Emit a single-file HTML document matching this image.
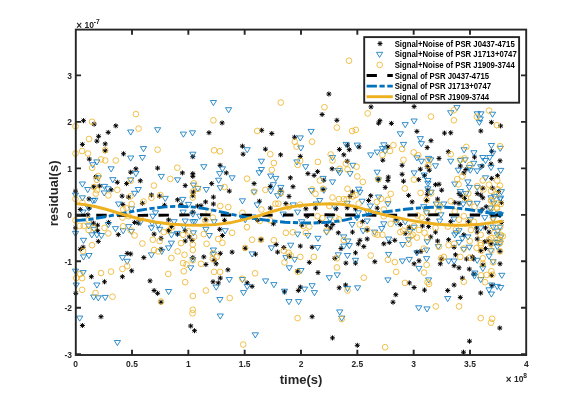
<!DOCTYPE html>
<html><head><meta charset="utf-8"><title>residuals</title>
<style>
html,body{margin:0;padding:0;background:#fff;}
svg{display:block;}
text{font-family:"Liberation Sans",sans-serif;font-weight:bold;fill:#262626;}
.tk{font-size:9.4px;}
.lg{font-size:8.22px;fill:#000;}
.ax{font-size:13px;}
.ex{font-size:9.3px;font-weight:normal;}
.k{stroke:#000;stroke-width:1.0;fill:none;}
.b{stroke:#0072BD;stroke-width:0.8;fill:none;}
.y{stroke:#EDB120;stroke-width:0.8;fill:none;}
</style></head><body>
<svg width="581" height="399" viewBox="0 0 581 399">
<rect width="581" height="399" fill="#fff"/>

<path class="k" d="M81.0 120.7h5m-2.5 -2.5v5m-1.8 -4.3l3.6 3.6m-3.6 0l3.6 -3.6M91.6 124.1h5m-2.5 -2.5v5m-1.8 -4.3l3.6 3.6m-3.6 0l3.6 -3.6M113.3 125.8h5m-2.5 -2.5v5m-1.8 -4.3l3.6 3.6m-3.6 0l3.6 -3.6M105.7 132.4h5m-2.5 -2.5v5m-1.8 -4.3l3.6 3.6m-3.6 0l3.6 -3.6M96.1 136.3h5m-2.5 -2.5v5m-1.8 -4.3l3.6 3.6m-3.6 0l3.6 -3.6M94.4 141.1h5m-2.5 -2.5v5m-1.8 -4.3l3.6 3.6m-3.6 0l3.6 -3.6M102.7 143.9h5m-2.5 -2.5v5m-1.8 -4.3l3.6 3.6m-3.6 0l3.6 -3.6M79.9 144.4h5m-2.5 -2.5v5m-1.8 -4.3l3.6 3.6m-3.6 0l3.6 -3.6M102.7 150.8h5m-2.5 -2.5v5m-1.8 -4.3l3.6 3.6m-3.6 0l3.6 -3.6M121.0 153.8h5m-2.5 -2.5v5m-1.8 -4.3l3.6 3.6m-3.6 0l3.6 -3.6M219.6 122.9h5m-2.5 -2.5v5m-1.8 -4.3l3.6 3.6m-3.6 0l3.6 -3.6M206.5 132.7h5m-2.5 -2.5v5m-1.8 -4.3l3.6 3.6m-3.6 0l3.6 -3.6M259.2 130.3h5m-2.5 -2.5v5m-1.8 -4.3l3.6 3.6m-3.6 0l3.6 -3.6M269.3 133.5h5m-2.5 -2.5v5m-1.8 -4.3l3.6 3.6m-3.6 0l3.6 -3.6M292.1 137.2h5m-2.5 -2.5v5m-1.8 -4.3l3.6 3.6m-3.6 0l3.6 -3.6M239.9 146.2h5m-2.5 -2.5v5m-1.8 -4.3l3.6 3.6m-3.6 0l3.6 -3.6M262.9 149.2h5m-2.5 -2.5v5m-1.8 -4.3l3.6 3.6m-3.6 0l3.6 -3.6M240.6 154.2h5m-2.5 -2.5v5m-1.8 -4.3l3.6 3.6m-3.6 0l3.6 -3.6M278.1 154.8h5m-2.5 -2.5v5m-1.8 -4.3l3.6 3.6m-3.6 0l3.6 -3.6M319.6 114.5h5m-2.5 -2.5v5m-1.8 -4.3l3.6 3.6m-3.6 0l3.6 -3.6M334.4 120.3h5m-2.5 -2.5v5m-1.8 -4.3l3.6 3.6m-3.6 0l3.6 -3.6M368.5 106.9h5m-2.5 -2.5v5m-1.8 -4.3l3.6 3.6m-3.6 0l3.6 -3.6M377.4 120.7h5m-2.5 -2.5v5m-1.8 -4.3l3.6 3.6m-3.6 0l3.6 -3.6M376.1 123.2h5m-2.5 -2.5v5m-1.8 -4.3l3.6 3.6m-3.6 0l3.6 -3.6M345.0 145.2h5m-2.5 -2.5v5m-1.8 -4.3l3.6 3.6m-3.6 0l3.6 -3.6M346.8 149.7h5m-2.5 -2.5v5m-1.8 -4.3l3.6 3.6m-3.6 0l3.6 -3.6M336.9 149.4h5m-2.5 -2.5v5m-1.8 -4.3l3.6 3.6m-3.6 0l3.6 -3.6M356.5 146.9h5m-2.5 -2.5v5m-1.8 -4.3l3.6 3.6m-3.6 0l3.6 -3.6M341.3 154.8h5m-2.5 -2.5v5m-1.8 -4.3l3.6 3.6m-3.6 0l3.6 -3.6M385.4 146.9h5m-2.5 -2.5v5m-1.8 -4.3l3.6 3.6m-3.6 0l3.6 -3.6M411.6 106.6h5m-2.5 -2.5v5m-1.8 -4.3l3.6 3.6m-3.6 0l3.6 -3.6M388.9 123.4h5m-2.5 -2.5v5m-1.8 -4.3l3.6 3.6m-3.6 0l3.6 -3.6M414.4 131.4h5m-2.5 -2.5v5m-1.8 -4.3l3.6 3.6m-3.6 0l3.6 -3.6M442.0 133.1h5m-2.5 -2.5v5m-1.8 -4.3l3.6 3.6m-3.6 0l3.6 -3.6M448.2 132.8h5m-2.5 -2.5v5m-1.8 -4.3l3.6 3.6m-3.6 0l3.6 -3.6M428.5 140.7h5m-2.5 -2.5v5m-1.8 -4.3l3.6 3.6m-3.6 0l3.6 -3.6M424.7 147.6h5m-2.5 -2.5v5m-1.8 -4.3l3.6 3.6m-3.6 0l3.6 -3.6M445.8 151.7h5m-2.5 -2.5v5m-1.8 -4.3l3.6 3.6m-3.6 0l3.6 -3.6M402.0 99.6h5m-2.5 -2.5v5m-1.8 -4.3l3.6 3.6m-3.6 0l3.6 -3.6M488.9 122.3h5m-2.5 -2.5v5m-1.8 -4.3l3.6 3.6m-3.6 0l3.6 -3.6M498.1 125.9h5m-2.5 -2.5v5m-1.8 -4.3l3.6 3.6m-3.6 0l3.6 -3.6M478.3 131.0h5m-2.5 -2.5v5m-1.8 -4.3l3.6 3.6m-3.6 0l3.6 -3.6M489.2 151.3h5m-2.5 -2.5v5m-1.8 -4.3l3.6 3.6m-3.6 0l3.6 -3.6M86.8 159.1h5m-2.5 -2.5v5m-1.8 -4.3l3.6 3.6m-3.6 0l3.6 -3.6M133.4 168.8h5m-2.5 -2.5v5m-1.8 -4.3l3.6 3.6m-3.6 0l3.6 -3.6M128.2 172.2h5m-2.5 -2.5v5m-1.8 -4.3l3.6 3.6m-3.6 0l3.6 -3.6M93.3 176.8h5m-2.5 -2.5v5m-1.8 -4.3l3.6 3.6m-3.6 0l3.6 -3.6M114.8 182.3h5m-2.5 -2.5v5m-1.8 -4.3l3.6 3.6m-3.6 0l3.6 -3.6M124.1 183.6h5m-2.5 -2.5v5m-1.8 -4.3l3.6 3.6m-3.6 0l3.6 -3.6M137.8 180.8h5m-2.5 -2.5v5m-1.8 -4.3l3.6 3.6m-3.6 0l3.6 -3.6M91.2 186.7h5m-2.5 -2.5v5m-1.8 -4.3l3.6 3.6m-3.6 0l3.6 -3.6M97.2 186.0h5m-2.5 -2.5v5m-1.8 -4.3l3.6 3.6m-3.6 0l3.6 -3.6M108.6 189.8h5m-2.5 -2.5v5m-1.8 -4.3l3.6 3.6m-3.6 0l3.6 -3.6M119.6 196.1h5m-2.5 -2.5v5m-1.8 -4.3l3.6 3.6m-3.6 0l3.6 -3.6M126.1 197.1h5m-2.5 -2.5v5m-1.8 -4.3l3.6 3.6m-3.6 0l3.6 -3.6M73.0 191.1h5m-2.5 -2.5v5m-1.8 -4.3l3.6 3.6m-3.6 0l3.6 -3.6M86.5 198.9h5m-2.5 -2.5v5m-1.8 -4.3l3.6 3.6m-3.6 0l3.6 -3.6M139.9 203.3h5m-2.5 -2.5v5m-1.8 -4.3l3.6 3.6m-3.6 0l3.6 -3.6M120.3 204.4h5m-2.5 -2.5v5m-1.8 -4.3l3.6 3.6m-3.6 0l3.6 -3.6M86.8 208.1h5m-2.5 -2.5v5m-1.8 -4.3l3.6 3.6m-3.6 0l3.6 -3.6M77.8 209.5h5m-2.5 -2.5v5m-1.8 -4.3l3.6 3.6m-3.6 0l3.6 -3.6M190.3 156.7h5m-2.5 -2.5v5m-1.8 -4.3l3.6 3.6m-3.6 0l3.6 -3.6M155.1 168.1h5m-2.5 -2.5v5m-1.8 -4.3l3.6 3.6m-3.6 0l3.6 -3.6M217.6 165.3h5m-2.5 -2.5v5m-1.8 -4.3l3.6 3.6m-3.6 0l3.6 -3.6M223.8 172.9h5m-2.5 -2.5v5m-1.8 -4.3l3.6 3.6m-3.6 0l3.6 -3.6M179.9 172.9h5m-2.5 -2.5v5m-1.8 -4.3l3.6 3.6m-3.6 0l3.6 -3.6M190.3 173.6h5m-2.5 -2.5v5m-1.8 -4.3l3.6 3.6m-3.6 0l3.6 -3.6M190.3 176.4h5m-2.5 -2.5v5m-1.8 -4.3l3.6 3.6m-3.6 0l3.6 -3.6M182.7 185.6h5m-2.5 -2.5v5m-1.8 -4.3l3.6 3.6m-3.6 0l3.6 -3.6M209.2 183.6h5m-2.5 -2.5v5m-1.8 -4.3l3.6 3.6m-3.6 0l3.6 -3.6M190.9 192.0h5m-2.5 -2.5v5m-1.8 -4.3l3.6 3.6m-3.6 0l3.6 -3.6M226.8 191.1h5m-2.5 -2.5v5m-1.8 -4.3l3.6 3.6m-3.6 0l3.6 -3.6M156.9 196.1h5m-2.5 -2.5v5m-1.8 -4.3l3.6 3.6m-3.6 0l3.6 -3.6M148.9 195.0h5m-2.5 -2.5v5m-1.8 -4.3l3.6 3.6m-3.6 0l3.6 -3.6M190.3 195.7h5m-2.5 -2.5v5m-1.8 -4.3l3.6 3.6m-3.6 0l3.6 -3.6M210.9 197.1h5m-2.5 -2.5v5m-1.8 -4.3l3.6 3.6m-3.6 0l3.6 -3.6M175.1 199.8h5m-2.5 -2.5v5m-1.8 -4.3l3.6 3.6m-3.6 0l3.6 -3.6M203.1 201.9h5m-2.5 -2.5v5m-1.8 -4.3l3.6 3.6m-3.6 0l3.6 -3.6M210.9 204.0h5m-2.5 -2.5v5m-1.8 -4.3l3.6 3.6m-3.6 0l3.6 -3.6M178.5 204.7h5m-2.5 -2.5v5m-1.8 -4.3l3.6 3.6m-3.6 0l3.6 -3.6M162.0 205.3h5m-2.5 -2.5v5m-1.8 -4.3l3.6 3.6m-3.6 0l3.6 -3.6M195.1 206.0h5m-2.5 -2.5v5m-1.8 -4.3l3.6 3.6m-3.6 0l3.6 -3.6M198.5 205.8h5m-2.5 -2.5v5m-1.8 -4.3l3.6 3.6m-3.6 0l3.6 -3.6M297.8 156.4h5m-2.5 -2.5v5m-1.8 -4.3l3.6 3.6m-3.6 0l3.6 -3.6M305.4 173.6h5m-2.5 -2.5v5m-1.8 -4.3l3.6 3.6m-3.6 0l3.6 -3.6M287.9 177.8h5m-2.5 -2.5v5m-1.8 -4.3l3.6 3.6m-3.6 0l3.6 -3.6M251.6 183.6h5m-2.5 -2.5v5m-1.8 -4.3l3.6 3.6m-3.6 0l3.6 -3.6M267.8 186.4h5m-2.5 -2.5v5m-1.8 -4.3l3.6 3.6m-3.6 0l3.6 -3.6M290.5 186.7h5m-2.5 -2.5v5m-1.8 -4.3l3.6 3.6m-3.6 0l3.6 -3.6M278.3 190.2h5m-2.5 -2.5v5m-1.8 -4.3l3.6 3.6m-3.6 0l3.6 -3.6M286.5 196.4h5m-2.5 -2.5v5m-1.8 -4.3l3.6 3.6m-3.6 0l3.6 -3.6M256.9 201.2h5m-2.5 -2.5v5m-1.8 -4.3l3.6 3.6m-3.6 0l3.6 -3.6M283.4 203.6h5m-2.5 -2.5v5m-1.8 -4.3l3.6 3.6m-3.6 0l3.6 -3.6M267.8 208.1h5m-2.5 -2.5v5m-1.8 -4.3l3.6 3.6m-3.6 0l3.6 -3.6M303.4 208.8h5m-2.5 -2.5v5m-1.8 -4.3l3.6 3.6m-3.6 0l3.6 -3.6M380.3 160.2h5m-2.5 -2.5v5m-1.8 -4.3l3.6 3.6m-3.6 0l3.6 -3.6M344.7 161.2h5m-2.5 -2.5v5m-1.8 -4.3l3.6 3.6m-3.6 0l3.6 -3.6M329.6 168.8h5m-2.5 -2.5v5m-1.8 -4.3l3.6 3.6m-3.6 0l3.6 -3.6M315.1 171.6h5m-2.5 -2.5v5m-1.8 -4.3l3.6 3.6m-3.6 0l3.6 -3.6M311.6 175.4h5m-2.5 -2.5v5m-1.8 -4.3l3.6 3.6m-3.6 0l3.6 -3.6M375.8 179.6h5m-2.5 -2.5v5m-1.8 -4.3l3.6 3.6m-3.6 0l3.6 -3.6M385.8 177.1h5m-2.5 -2.5v5m-1.8 -4.3l3.6 3.6m-3.6 0l3.6 -3.6M385.4 180.5h5m-2.5 -2.5v5m-1.8 -4.3l3.6 3.6m-3.6 0l3.6 -3.6M321.3 180.2h5m-2.5 -2.5v5m-1.8 -4.3l3.6 3.6m-3.6 0l3.6 -3.6M382.7 187.4h5m-2.5 -2.5v5m-1.8 -4.3l3.6 3.6m-3.6 0l3.6 -3.6M320.6 189.5h5m-2.5 -2.5v5m-1.8 -4.3l3.6 3.6m-3.6 0l3.6 -3.6M350.0 192.0h5m-2.5 -2.5v5m-1.8 -4.3l3.6 3.6m-3.6 0l3.6 -3.6M368.2 195.7h5m-2.5 -2.5v5m-1.8 -4.3l3.6 3.6m-3.6 0l3.6 -3.6M347.5 196.4h5m-2.5 -2.5v5m-1.8 -4.3l3.6 3.6m-3.6 0l3.6 -3.6M366.1 200.5h5m-2.5 -2.5v5m-1.8 -4.3l3.6 3.6m-3.6 0l3.6 -3.6M313.0 208.1h5m-2.5 -2.5v5m-1.8 -4.3l3.6 3.6m-3.6 0l3.6 -3.6M333.7 208.8h5m-2.5 -2.5v5m-1.8 -4.3l3.6 3.6m-3.6 0l3.6 -3.6M344.7 207.8h5m-2.5 -2.5v5m-1.8 -4.3l3.6 3.6m-3.6 0l3.6 -3.6M353.0 208.8h5m-2.5 -2.5v5m-1.8 -4.3l3.6 3.6m-3.6 0l3.6 -3.6M374.7 208.1h5m-2.5 -2.5v5m-1.8 -4.3l3.6 3.6m-3.6 0l3.6 -3.6M436.5 158.4h5m-2.5 -2.5v5m-1.8 -4.3l3.6 3.6m-3.6 0l3.6 -3.6M399.6 165.3h5m-2.5 -2.5v5m-1.8 -4.3l3.6 3.6m-3.6 0l3.6 -3.6M424.7 166.7h5m-2.5 -2.5v5m-1.8 -4.3l3.6 3.6m-3.6 0l3.6 -3.6M417.8 169.2h5m-2.5 -2.5v5m-1.8 -4.3l3.6 3.6m-3.6 0l3.6 -3.6M426.8 170.2h5m-2.5 -2.5v5m-1.8 -4.3l3.6 3.6m-3.6 0l3.6 -3.6M399.6 174.3h5m-2.5 -2.5v5m-1.8 -4.3l3.6 3.6m-3.6 0l3.6 -3.6M422.0 175.7h5m-2.5 -2.5v5m-1.8 -4.3l3.6 3.6m-3.6 0l3.6 -3.6M416.2 179.6h5m-2.5 -2.5v5m-1.8 -4.3l3.6 3.6m-3.6 0l3.6 -3.6M401.0 181.2h5m-2.5 -2.5v5m-1.8 -4.3l3.6 3.6m-3.6 0l3.6 -3.6M433.0 184.7h5m-2.5 -2.5v5m-1.8 -4.3l3.6 3.6m-3.6 0l3.6 -3.6M436.5 184.2h5m-2.5 -2.5v5m-1.8 -4.3l3.6 3.6m-3.6 0l3.6 -3.6M425.4 190.2h5m-2.5 -2.5v5m-1.8 -4.3l3.6 3.6m-3.6 0l3.6 -3.6M439.2 190.2h5m-2.5 -2.5v5m-1.8 -4.3l3.6 3.6m-3.6 0l3.6 -3.6M424.7 194.3h5m-2.5 -2.5v5m-1.8 -4.3l3.6 3.6m-3.6 0l3.6 -3.6M406.1 195.4h5m-2.5 -2.5v5m-1.8 -4.3l3.6 3.6m-3.6 0l3.6 -3.6M424.1 200.5h5m-2.5 -2.5v5m-1.8 -4.3l3.6 3.6m-3.6 0l3.6 -3.6M435.1 199.1h5m-2.5 -2.5v5m-1.8 -4.3l3.6 3.6m-3.6 0l3.6 -3.6M409.6 201.9h5m-2.5 -2.5v5m-1.8 -4.3l3.6 3.6m-3.6 0l3.6 -3.6M452.3 202.6h5m-2.5 -2.5v5m-1.8 -4.3l3.6 3.6m-3.6 0l3.6 -3.6M457.8 166.0h5m-2.5 -2.5v5m-1.8 -4.3l3.6 3.6m-3.6 0l3.6 -3.6M463.4 169.5h5m-2.5 -2.5v5m-1.8 -4.3l3.6 3.6m-3.6 0l3.6 -3.6M461.3 172.9h5m-2.5 -2.5v5m-1.8 -4.3l3.6 3.6m-3.6 0l3.6 -3.6M456.5 193.6h5m-2.5 -2.5v5m-1.8 -4.3l3.6 3.6m-3.6 0l3.6 -3.6M458.5 195.7h5m-2.5 -2.5v5m-1.8 -4.3l3.6 3.6m-3.6 0l3.6 -3.6M462.0 198.4h5m-2.5 -2.5v5m-1.8 -4.3l3.6 3.6m-3.6 0l3.6 -3.6M456.5 203.3h5m-2.5 -2.5v5m-1.8 -4.3l3.6 3.6m-3.6 0l3.6 -3.6M472.0 157.1h5m-2.5 -2.5v5m-1.8 -4.3l3.6 3.6m-3.6 0l3.6 -3.6M497.5 160.8h5m-2.5 -2.5v5m-1.8 -4.3l3.6 3.6m-3.6 0l3.6 -3.6M488.5 164.0h5m-2.5 -2.5v5m-1.8 -4.3l3.6 3.6m-3.6 0l3.6 -3.6M479.6 166.0h5m-2.5 -2.5v5m-1.8 -4.3l3.6 3.6m-3.6 0l3.6 -3.6M495.0 175.7h5m-2.5 -2.5v5m-1.8 -4.3l3.6 3.6m-3.6 0l3.6 -3.6M489.2 178.4h5m-2.5 -2.5v5m-1.8 -4.3l3.6 3.6m-3.6 0l3.6 -3.6M489.9 188.1h5m-2.5 -2.5v5m-1.8 -4.3l3.6 3.6m-3.6 0l3.6 -3.6M480.3 188.1h5m-2.5 -2.5v5m-1.8 -4.3l3.6 3.6m-3.6 0l3.6 -3.6M496.1 191.6h5m-2.5 -2.5v5m-1.8 -4.3l3.6 3.6m-3.6 0l3.6 -3.6M474.7 193.6h5m-2.5 -2.5v5m-1.8 -4.3l3.6 3.6m-3.6 0l3.6 -3.6M478.2 195.0h5m-2.5 -2.5v5m-1.8 -4.3l3.6 3.6m-3.6 0l3.6 -3.6M480.3 197.8h5m-2.5 -2.5v5m-1.8 -4.3l3.6 3.6m-3.6 0l3.6 -3.6M498.9 202.6h5m-2.5 -2.5v5m-1.8 -4.3l3.6 3.6m-3.6 0l3.6 -3.6M483.7 206.7h5m-2.5 -2.5v5m-1.8 -4.3l3.6 3.6m-3.6 0l3.6 -3.6M479.6 209.5h5m-2.5 -2.5v5m-1.8 -4.3l3.6 3.6m-3.6 0l3.6 -3.6M85.4 214.8h5m-2.5 -2.5v5m-1.8 -4.3l3.6 3.6m-3.6 0l3.6 -3.6M90.9 223.1h5m-2.5 -2.5v5m-1.8 -4.3l3.6 3.6m-3.6 0l3.6 -3.6M95.1 225.2h5m-2.5 -2.5v5m-1.8 -4.3l3.6 3.6m-3.6 0l3.6 -3.6M95.1 230.7h5m-2.5 -2.5v5m-1.8 -4.3l3.6 3.6m-3.6 0l3.6 -3.6M73.0 227.9h5m-2.5 -2.5v5m-1.8 -4.3l3.6 3.6m-3.6 0l3.6 -3.6M106.1 222.4h5m-2.5 -2.5v5m-1.8 -4.3l3.6 3.6m-3.6 0l3.6 -3.6M115.8 234.6h5m-2.5 -2.5v5m-1.8 -4.3l3.6 3.6m-3.6 0l3.6 -3.6M132.1 222.4h5m-2.5 -2.5v5m-1.8 -4.3l3.6 3.6m-3.6 0l3.6 -3.6M135.8 223.1h5m-2.5 -2.5v5m-1.8 -4.3l3.6 3.6m-3.6 0l3.6 -3.6M95.8 241.4h5m-2.5 -2.5v5m-1.8 -4.3l3.6 3.6m-3.6 0l3.6 -3.6M80.6 247.2h5m-2.5 -2.5v5m-1.8 -4.3l3.6 3.6m-3.6 0l3.6 -3.6M77.8 249.3h5m-2.5 -2.5v5m-1.8 -4.3l3.6 3.6m-3.6 0l3.6 -3.6M124.7 253.4h5m-2.5 -2.5v5m-1.8 -4.3l3.6 3.6m-3.6 0l3.6 -3.6M128.2 253.9h5m-2.5 -2.5v5m-1.8 -4.3l3.6 3.6m-3.6 0l3.6 -3.6M141.3 257.6h5m-2.5 -2.5v5m-1.8 -4.3l3.6 3.6m-3.6 0l3.6 -3.6M166.1 219.9h5m-2.5 -2.5v5m-1.8 -4.3l3.6 3.6m-3.6 0l3.6 -3.6M190.3 212.1h5m-2.5 -2.5v5m-1.8 -4.3l3.6 3.6m-3.6 0l3.6 -3.6M203.4 219.7h5m-2.5 -2.5v5m-1.8 -4.3l3.6 3.6m-3.6 0l3.6 -3.6M222.0 220.3h5m-2.5 -2.5v5m-1.8 -4.3l3.6 3.6m-3.6 0l3.6 -3.6M168.9 226.6h5m-2.5 -2.5v5m-1.8 -4.3l3.6 3.6m-3.6 0l3.6 -3.6M166.1 230.7h5m-2.5 -2.5v5m-1.8 -4.3l3.6 3.6m-3.6 0l3.6 -3.6M151.6 234.1h5m-2.5 -2.5v5m-1.8 -4.3l3.6 3.6m-3.6 0l3.6 -3.6M175.1 234.1h5m-2.5 -2.5v5m-1.8 -4.3l3.6 3.6m-3.6 0l3.6 -3.6M182.7 230.7h5m-2.5 -2.5v5m-1.8 -4.3l3.6 3.6m-3.6 0l3.6 -3.6M186.8 236.9h5m-2.5 -2.5v5m-1.8 -4.3l3.6 3.6m-3.6 0l3.6 -3.6M217.2 229.3h5m-2.5 -2.5v5m-1.8 -4.3l3.6 3.6m-3.6 0l3.6 -3.6M219.9 235.5h5m-2.5 -2.5v5m-1.8 -4.3l3.6 3.6m-3.6 0l3.6 -3.6M158.5 238.3h5m-2.5 -2.5v5m-1.8 -4.3l3.6 3.6m-3.6 0l3.6 -3.6M182.7 241.0h5m-2.5 -2.5v5m-1.8 -4.3l3.6 3.6m-3.6 0l3.6 -3.6M189.6 240.3h5m-2.5 -2.5v5m-1.8 -4.3l3.6 3.6m-3.6 0l3.6 -3.6M158.5 249.3h5m-2.5 -2.5v5m-1.8 -4.3l3.6 3.6m-3.6 0l3.6 -3.6M217.8 253.4h5m-2.5 -2.5v5m-1.8 -4.3l3.6 3.6m-3.6 0l3.6 -3.6M201.3 256.9h5m-2.5 -2.5v5m-1.8 -4.3l3.6 3.6m-3.6 0l3.6 -3.6M211.6 260.3h5m-2.5 -2.5v5m-1.8 -4.3l3.6 3.6m-3.6 0l3.6 -3.6M190.3 257.6h5m-2.5 -2.5v5m-1.8 -4.3l3.6 3.6m-3.6 0l3.6 -3.6M203.4 264.5h5m-2.5 -2.5v5m-1.8 -4.3l3.6 3.6m-3.6 0l3.6 -3.6M213.7 263.8h5m-2.5 -2.5v5m-1.8 -4.3l3.6 3.6m-3.6 0l3.6 -3.6M239.9 216.9h5m-2.5 -2.5v5m-1.8 -4.3l3.6 3.6m-3.6 0l3.6 -3.6M255.1 220.3h5m-2.5 -2.5v5m-1.8 -4.3l3.6 3.6m-3.6 0l3.6 -3.6M270.9 223.8h5m-2.5 -2.5v5m-1.8 -4.3l3.6 3.6m-3.6 0l3.6 -3.6M304.7 216.2h5m-2.5 -2.5v5m-1.8 -4.3l3.6 3.6m-3.6 0l3.6 -3.6M299.2 225.2h5m-2.5 -2.5v5m-1.8 -4.3l3.6 3.6m-3.6 0l3.6 -3.6M258.5 239.7h5m-2.5 -2.5v5m-1.8 -4.3l3.6 3.6m-3.6 0l3.6 -3.6M273.7 244.5h5m-2.5 -2.5v5m-1.8 -4.3l3.6 3.6m-3.6 0l3.6 -3.6M297.8 246.1h5m-2.5 -2.5v5m-1.8 -4.3l3.6 3.6m-3.6 0l3.6 -3.6M281.3 247.5h5m-2.5 -2.5v5m-1.8 -4.3l3.6 3.6m-3.6 0l3.6 -3.6M275.1 252.1h5m-2.5 -2.5v5m-1.8 -4.3l3.6 3.6m-3.6 0l3.6 -3.6M242.7 248.3h5m-2.5 -2.5v5m-1.8 -4.3l3.6 3.6m-3.6 0l3.6 -3.6M229.6 252.1h5m-2.5 -2.5v5m-1.8 -4.3l3.6 3.6m-3.6 0l3.6 -3.6M253.0 254.1h5m-2.5 -2.5v5m-1.8 -4.3l3.6 3.6m-3.6 0l3.6 -3.6M286.8 256.2h5m-2.5 -2.5v5m-1.8 -4.3l3.6 3.6m-3.6 0l3.6 -3.6M306.8 262.4h5m-2.5 -2.5v5m-1.8 -4.3l3.6 3.6m-3.6 0l3.6 -3.6M359.9 221.7h5m-2.5 -2.5v5m-1.8 -4.3l3.6 3.6m-3.6 0l3.6 -3.6M317.2 221.7h5m-2.5 -2.5v5m-1.8 -4.3l3.6 3.6m-3.6 0l3.6 -3.6M324.1 225.2h5m-2.5 -2.5v5m-1.8 -4.3l3.6 3.6m-3.6 0l3.6 -3.6M330.3 224.5h5m-2.5 -2.5v5m-1.8 -4.3l3.6 3.6m-3.6 0l3.6 -3.6M328.2 227.9h5m-2.5 -2.5v5m-1.8 -4.3l3.6 3.6m-3.6 0l3.6 -3.6M335.8 232.8h5m-2.5 -2.5v5m-1.8 -4.3l3.6 3.6m-3.6 0l3.6 -3.6M350.0 232.1h5m-2.5 -2.5v5m-1.8 -4.3l3.6 3.6m-3.6 0l3.6 -3.6M364.7 230.0h5m-2.5 -2.5v5m-1.8 -4.3l3.6 3.6m-3.6 0l3.6 -3.6M364.7 239.0h5m-2.5 -2.5v5m-1.8 -4.3l3.6 3.6m-3.6 0l3.6 -3.6M357.4 240.3h5m-2.5 -2.5v5m-1.8 -4.3l3.6 3.6m-3.6 0l3.6 -3.6M355.8 243.8h5m-2.5 -2.5v5m-1.8 -4.3l3.6 3.6m-3.6 0l3.6 -3.6M361.3 246.6h5m-2.5 -2.5v5m-1.8 -4.3l3.6 3.6m-3.6 0l3.6 -3.6M338.5 248.6h5m-2.5 -2.5v5m-1.8 -4.3l3.6 3.6m-3.6 0l3.6 -3.6M381.3 243.8h5m-2.5 -2.5v5m-1.8 -4.3l3.6 3.6m-3.6 0l3.6 -3.6M386.8 242.4h5m-2.5 -2.5v5m-1.8 -4.3l3.6 3.6m-3.6 0l3.6 -3.6M309.6 247.2h5m-2.5 -2.5v5m-1.8 -4.3l3.6 3.6m-3.6 0l3.6 -3.6M353.0 252.8h5m-2.5 -2.5v5m-1.8 -4.3l3.6 3.6m-3.6 0l3.6 -3.6M332.3 258.3h5m-2.5 -2.5v5m-1.8 -4.3l3.6 3.6m-3.6 0l3.6 -3.6M353.0 263.1h5m-2.5 -2.5v5m-1.8 -4.3l3.6 3.6m-3.6 0l3.6 -3.6M343.4 263.1h5m-2.5 -2.5v5m-1.8 -4.3l3.6 3.6m-3.6 0l3.6 -3.6M372.3 261.7h5m-2.5 -2.5v5m-1.8 -4.3l3.6 3.6m-3.6 0l3.6 -3.6M393.7 219.7h5m-2.5 -2.5v5m-1.8 -4.3l3.6 3.6m-3.6 0l3.6 -3.6M397.8 224.5h5m-2.5 -2.5v5m-1.8 -4.3l3.6 3.6m-3.6 0l3.6 -3.6M425.4 219.7h5m-2.5 -2.5v5m-1.8 -4.3l3.6 3.6m-3.6 0l3.6 -3.6M448.2 221.7h5m-2.5 -2.5v5m-1.8 -4.3l3.6 3.6m-3.6 0l3.6 -3.6M466.1 221.7h5m-2.5 -2.5v5m-1.8 -4.3l3.6 3.6m-3.6 0l3.6 -3.6M406.8 227.2h5m-2.5 -2.5v5m-1.8 -4.3l3.6 3.6m-3.6 0l3.6 -3.6M419.9 225.9h5m-2.5 -2.5v5m-1.8 -4.3l3.6 3.6m-3.6 0l3.6 -3.6M426.1 226.6h5m-2.5 -2.5v5m-1.8 -4.3l3.6 3.6m-3.6 0l3.6 -3.6M433.0 232.1h5m-2.5 -2.5v5m-1.8 -4.3l3.6 3.6m-3.6 0l3.6 -3.6M402.7 233.4h5m-2.5 -2.5v5m-1.8 -4.3l3.6 3.6m-3.6 0l3.6 -3.6M428.2 236.9h5m-2.5 -2.5v5m-1.8 -4.3l3.6 3.6m-3.6 0l3.6 -3.6M392.3 240.3h5m-2.5 -2.5v5m-1.8 -4.3l3.6 3.6m-3.6 0l3.6 -3.6M435.1 241.0h5m-2.5 -2.5v5m-1.8 -4.3l3.6 3.6m-3.6 0l3.6 -3.6M446.1 239.7h5m-2.5 -2.5v5m-1.8 -4.3l3.6 3.6m-3.6 0l3.6 -3.6M451.6 247.2h5m-2.5 -2.5v5m-1.8 -4.3l3.6 3.6m-3.6 0l3.6 -3.6M461.3 234.8h5m-2.5 -2.5v5m-1.8 -4.3l3.6 3.6m-3.6 0l3.6 -3.6M418.5 251.4h5m-2.5 -2.5v5m-1.8 -4.3l3.6 3.6m-3.6 0l3.6 -3.6M414.4 252.1h5m-2.5 -2.5v5m-1.8 -4.3l3.6 3.6m-3.6 0l3.6 -3.6M439.2 259.0h5m-2.5 -2.5v5m-1.8 -4.3l3.6 3.6m-3.6 0l3.6 -3.6M453.0 254.8h5m-2.5 -2.5v5m-1.8 -4.3l3.6 3.6m-3.6 0l3.6 -3.6M464.1 259.0h5m-2.5 -2.5v5m-1.8 -4.3l3.6 3.6m-3.6 0l3.6 -3.6M416.5 260.8h5m-2.5 -2.5v5m-1.8 -4.3l3.6 3.6m-3.6 0l3.6 -3.6M411.6 263.8h5m-2.5 -2.5v5m-1.8 -4.3l3.6 3.6m-3.6 0l3.6 -3.6M437.8 263.8h5m-2.5 -2.5v5m-1.8 -4.3l3.6 3.6m-3.6 0l3.6 -3.6M489.2 214.8h5m-2.5 -2.5v5m-1.8 -4.3l3.6 3.6m-3.6 0l3.6 -3.6M498.9 222.4h5m-2.5 -2.5v5m-1.8 -4.3l3.6 3.6m-3.6 0l3.6 -3.6M474.1 227.9h5m-2.5 -2.5v5m-1.8 -4.3l3.6 3.6m-3.6 0l3.6 -3.6M483.0 227.9h5m-2.5 -2.5v5m-1.8 -4.3l3.6 3.6m-3.6 0l3.6 -3.6M486.5 232.1h5m-2.5 -2.5v5m-1.8 -4.3l3.6 3.6m-3.6 0l3.6 -3.6M474.7 232.1h5m-2.5 -2.5v5m-1.8 -4.3l3.6 3.6m-3.6 0l3.6 -3.6M474.7 239.0h5m-2.5 -2.5v5m-1.8 -4.3l3.6 3.6m-3.6 0l3.6 -3.6M485.8 241.0h5m-2.5 -2.5v5m-1.8 -4.3l3.6 3.6m-3.6 0l3.6 -3.6M482.3 241.7h5m-2.5 -2.5v5m-1.8 -4.3l3.6 3.6m-3.6 0l3.6 -3.6M488.5 243.8h5m-2.5 -2.5v5m-1.8 -4.3l3.6 3.6m-3.6 0l3.6 -3.6M478.2 250.7h5m-2.5 -2.5v5m-1.8 -4.3l3.6 3.6m-3.6 0l3.6 -3.6M483.0 248.6h5m-2.5 -2.5v5m-1.8 -4.3l3.6 3.6m-3.6 0l3.6 -3.6M497.5 251.4h5m-2.5 -2.5v5m-1.8 -4.3l3.6 3.6m-3.6 0l3.6 -3.6M469.9 256.9h5m-2.5 -2.5v5m-1.8 -4.3l3.6 3.6m-3.6 0l3.6 -3.6M471.3 259.0h5m-2.5 -2.5v5m-1.8 -4.3l3.6 3.6m-3.6 0l3.6 -3.6M497.5 263.8h5m-2.5 -2.5v5m-1.8 -4.3l3.6 3.6m-3.6 0l3.6 -3.6M88.9 276.7h5m-2.5 -2.5v5m-1.8 -4.3l3.6 3.6m-3.6 0l3.6 -3.6M129.2 270.8h5m-2.5 -2.5v5m-1.8 -4.3l3.6 3.6m-3.6 0l3.6 -3.6M119.9 276.7h5m-2.5 -2.5v5m-1.8 -4.3l3.6 3.6m-3.6 0l3.6 -3.6M102.0 281.8h5m-2.5 -2.5v5m-1.8 -4.3l3.6 3.6m-3.6 0l3.6 -3.6M73.3 293.3h5m-2.5 -2.5v5m-1.8 -4.3l3.6 3.6m-3.6 0l3.6 -3.6M98.5 316.7h5m-2.5 -2.5v5m-1.8 -4.3l3.6 3.6m-3.6 0l3.6 -3.6M147.5 280.9h5m-2.5 -2.5v5m-1.8 -4.3l3.6 3.6m-3.6 0l3.6 -3.6M225.4 269.8h5m-2.5 -2.5v5m-1.8 -4.3l3.6 3.6m-3.6 0l3.6 -3.6M217.8 278.1h5m-2.5 -2.5v5m-1.8 -4.3l3.6 3.6m-3.6 0l3.6 -3.6M210.5 281.8h5m-2.5 -2.5v5m-1.8 -4.3l3.6 3.6m-3.6 0l3.6 -3.6M215.8 282.9h5m-2.5 -2.5v5m-1.8 -4.3l3.6 3.6m-3.6 0l3.6 -3.6M151.6 290.5h5m-2.5 -2.5v5m-1.8 -4.3l3.6 3.6m-3.6 0l3.6 -3.6M155.1 293.3h5m-2.5 -2.5v5m-1.8 -4.3l3.6 3.6m-3.6 0l3.6 -3.6M158.5 302.2h5m-2.5 -2.5v5m-1.8 -4.3l3.6 3.6m-3.6 0l3.6 -3.6M295.1 271.2h5m-2.5 -2.5v5m-1.8 -4.3l3.6 3.6m-3.6 0l3.6 -3.6M244.7 282.9h5m-2.5 -2.5v5m-1.8 -4.3l3.6 3.6m-3.6 0l3.6 -3.6M249.6 286.4h5m-2.5 -2.5v5m-1.8 -4.3l3.6 3.6m-3.6 0l3.6 -3.6M282.0 291.9h5m-2.5 -2.5v5m-1.8 -4.3l3.6 3.6m-3.6 0l3.6 -3.6M297.8 287.1h5m-2.5 -2.5v5m-1.8 -4.3l3.6 3.6m-3.6 0l3.6 -3.6M295.8 290.5h5m-2.5 -2.5v5m-1.8 -4.3l3.6 3.6m-3.6 0l3.6 -3.6M315.5 272.6h5m-2.5 -2.5v5m-1.8 -4.3l3.6 3.6m-3.6 0l3.6 -3.6M343.1 285.0h5m-2.5 -2.5v5m-1.8 -4.3l3.6 3.6m-3.6 0l3.6 -3.6M336.7 287.8h5m-2.5 -2.5v5m-1.8 -4.3l3.6 3.6m-3.6 0l3.6 -3.6M309.6 316.7h5m-2.5 -2.5v5m-1.8 -4.3l3.6 3.6m-3.6 0l3.6 -3.6M451.6 265.7h5m-2.5 -2.5v5m-1.8 -4.3l3.6 3.6m-3.6 0l3.6 -3.6M456.5 267.8h5m-2.5 -2.5v5m-1.8 -4.3l3.6 3.6m-3.6 0l3.6 -3.6M466.8 269.1h5m-2.5 -2.5v5m-1.8 -4.3l3.6 3.6m-3.6 0l3.6 -3.6M459.9 278.1h5m-2.5 -2.5v5m-1.8 -4.3l3.6 3.6m-3.6 0l3.6 -3.6M406.8 282.9h5m-2.5 -2.5v5m-1.8 -4.3l3.6 3.6m-3.6 0l3.6 -3.6M411.6 287.5h5m-2.5 -2.5v5m-1.8 -4.3l3.6 3.6m-3.6 0l3.6 -3.6M422.0 290.1h5m-2.5 -2.5v5m-1.8 -4.3l3.6 3.6m-3.6 0l3.6 -3.6M451.6 285.0h5m-2.5 -2.5v5m-1.8 -4.3l3.6 3.6m-3.6 0l3.6 -3.6M445.2 290.5h5m-2.5 -2.5v5m-1.8 -4.3l3.6 3.6m-3.6 0l3.6 -3.6M393.3 294.7h5m-2.5 -2.5v5m-1.8 -4.3l3.6 3.6m-3.6 0l3.6 -3.6M390.5 302.2h5m-2.5 -2.5v5m-1.8 -4.3l3.6 3.6m-3.6 0l3.6 -3.6M457.8 297.4h5m-2.5 -2.5v5m-1.8 -4.3l3.6 3.6m-3.6 0l3.6 -3.6M488.9 275.3h5m-2.5 -2.5v5m-1.8 -4.3l3.6 3.6m-3.6 0l3.6 -3.6M471.3 274.0h5m-2.5 -2.5v5m-1.8 -4.3l3.6 3.6m-3.6 0l3.6 -3.6M489.5 285.7h5m-2.5 -2.5v5m-1.8 -4.3l3.6 3.6m-3.6 0l3.6 -3.6M478.2 293.0h5m-2.5 -2.5v5m-1.8 -4.3l3.6 3.6m-3.6 0l3.6 -3.6M79.9 325.5h5m-2.5 -2.5v5m-1.8 -4.3l3.6 3.6m-3.6 0l3.6 -3.6M188.2 326.0h5m-2.5 -2.5v5m-1.8 -4.3l3.6 3.6m-3.6 0l3.6 -3.6M192.0 330.7h5m-2.5 -2.5v5m-1.8 -4.3l3.6 3.6m-3.6 0l3.6 -3.6M330.0 337.9h5m-2.5 -2.5v5m-1.8 -4.3l3.6 3.6m-3.6 0l3.6 -3.6M354.8 345.3h5m-2.5 -2.5v5m-1.8 -4.3l3.6 3.6m-3.6 0l3.6 -3.6M497.3 328.0h5m-2.5 -2.5v5m-1.8 -4.3l3.6 3.6m-3.6 0l3.6 -3.6M467.0 341.2h5m-2.5 -2.5v5m-1.8 -4.3l3.6 3.6m-3.6 0l3.6 -3.6M461.0 352.2h5m-2.5 -2.5v5m-1.8 -4.3l3.6 3.6m-3.6 0l3.6 -3.6M326.4 94.0h5m-2.5 -2.5v5m-1.8 -4.3l3.6 3.6m-3.6 0l3.6 -3.6M480.4 265.0h5m-2.5 -2.5v5m-1.8 -4.3l3.6 3.6m-3.6 0l3.6 -3.6"/>
<path class="b" d="M127.6 130.0h6.2l-3.1 5.1zM140.4 146.6h6.2l-3.1 5.1zM210.3 100.5h6.2l-3.1 5.1zM225.5 107.7h6.2l-3.1 5.1zM154.5 127.7h6.2l-3.1 5.1zM180.3 132.1h6.2l-3.1 5.1zM189.4 130.8h6.2l-3.1 5.1zM189.7 152.2h6.2l-3.1 5.1zM297.2 135.9h6.2l-3.1 5.1zM297.7 145.9h6.2l-3.1 5.1zM244.1 147.7h6.2l-3.1 5.1zM308.0 129.4h6.2l-3.1 5.1zM343.0 142.4h6.2l-3.1 5.1zM354.2 143.1h6.2l-3.1 5.1zM380.7 142.8h6.2l-3.1 5.1zM379.3 146.6h6.2l-3.1 5.1zM382.1 149.0h6.2l-3.1 5.1zM374.1 150.1h6.2l-3.1 5.1zM367.6 152.9h6.2l-3.1 5.1zM453.8 105.6h6.2l-3.1 5.1zM447.6 110.7h6.2l-3.1 5.1zM411.0 119.0h6.2l-3.1 5.1zM402.1 122.6h6.2l-3.1 5.1zM397.2 131.8h6.2l-3.1 5.1zM417.2 136.6h6.2l-3.1 5.1zM418.3 141.7h6.2l-3.1 5.1zM400.4 142.4h6.2l-3.1 5.1zM461.0 147.7h6.2l-3.1 5.1zM474.1 111.8h6.2l-3.1 5.1zM477.9 111.8h6.2l-3.1 5.1zM477.2 117.0h6.2l-3.1 5.1zM476.3 120.3h6.2l-3.1 5.1zM489.4 112.2h6.2l-3.1 5.1zM488.3 143.5h6.2l-3.1 5.1zM497.2 146.3h6.2l-3.1 5.1zM489.7 151.1h6.2l-3.1 5.1zM470.8 150.7h6.2l-3.1 5.1zM93.8 159.9h6.2l-3.1 5.1zM89.7 162.7h6.2l-3.1 5.1zM127.6 156.0h6.2l-3.1 5.1zM139.3 155.5h6.2l-3.1 5.1zM108.0 166.8h6.2l-3.1 5.1zM132.8 171.6h6.2l-3.1 5.1zM95.2 175.8h6.2l-3.1 5.1zM109.7 177.6h6.2l-3.1 5.1zM127.6 177.8h6.2l-3.1 5.1zM79.3 182.0h6.2l-3.1 5.1zM101.4 184.4h6.2l-3.1 5.1zM84.6 187.5h6.2l-3.1 5.1zM104.8 186.8h6.2l-3.1 5.1zM101.1 190.9h6.2l-3.1 5.1zM135.2 187.5h6.2l-3.1 5.1zM131.5 191.3h6.2l-3.1 5.1zM72.4 193.0h6.2l-3.1 5.1zM79.3 195.8h6.2l-3.1 5.1zM89.7 198.5h6.2l-3.1 5.1zM91.7 198.2h6.2l-3.1 5.1zM115.5 202.0h6.2l-3.1 5.1zM128.3 206.8h6.2l-3.1 5.1zM85.5 206.1h6.2l-3.1 5.1zM200.7 164.7h6.2l-3.1 5.1zM219.3 166.8h6.2l-3.1 5.1zM216.6 171.6h6.2l-3.1 5.1zM158.2 174.4h6.2l-3.1 5.1zM174.5 177.8h6.2l-3.1 5.1zM215.5 178.2h6.2l-3.1 5.1zM190.3 183.1h6.2l-3.1 5.1zM217.2 185.7h6.2l-3.1 5.1zM194.8 186.5h6.2l-3.1 5.1zM203.2 187.5h6.2l-3.1 5.1zM162.1 196.4h6.2l-3.1 5.1zM179.6 197.4h6.2l-3.1 5.1zM185.5 202.4h6.2l-3.1 5.1zM258.3 159.2h6.2l-3.1 5.1zM293.8 159.9h6.2l-3.1 5.1zM302.5 164.7h6.2l-3.1 5.1zM258.3 167.5h6.2l-3.1 5.1zM256.1 170.7h6.2l-3.1 5.1zM229.0 175.8h6.2l-3.1 5.1zM267.6 174.0h6.2l-3.1 5.1zM272.7 176.4h6.2l-3.1 5.1zM270.3 182.7h6.2l-3.1 5.1zM277.7 185.4h6.2l-3.1 5.1zM267.6 188.9h6.2l-3.1 5.1zM251.0 190.0h6.2l-3.1 5.1zM277.7 191.6h6.2l-3.1 5.1zM274.5 193.7h6.2l-3.1 5.1zM239.3 198.8h6.2l-3.1 5.1zM254.1 202.9h6.2l-3.1 5.1zM290.1 202.9h6.2l-3.1 5.1zM329.4 155.5h6.2l-3.1 5.1zM349.7 163.3h6.2l-3.1 5.1zM335.2 168.4h6.2l-3.1 5.1zM336.6 170.7h6.2l-3.1 5.1zM346.9 171.6h6.2l-3.1 5.1zM374.1 170.2h6.2l-3.1 5.1zM375.2 177.8h6.2l-3.1 5.1zM320.0 176.4h6.2l-3.1 5.1zM329.4 179.9h6.2l-3.1 5.1zM308.3 188.6h6.2l-3.1 5.1zM320.7 188.2h6.2l-3.1 5.1zM355.6 187.2h6.2l-3.1 5.1zM356.8 190.2h6.2l-3.1 5.1zM375.5 195.1h6.2l-3.1 5.1zM316.6 198.5h6.2l-3.1 5.1zM359.0 199.2h6.2l-3.1 5.1zM384.8 201.6h6.2l-3.1 5.1zM313.1 202.0h6.2l-3.1 5.1zM344.1 201.3h6.2l-3.1 5.1zM367.2 204.0h6.2l-3.1 5.1zM331.5 204.7h6.2l-3.1 5.1zM413.8 155.8h6.2l-3.1 5.1zM418.3 159.2h6.2l-3.1 5.1zM425.5 156.4h6.2l-3.1 5.1zM427.6 157.8h6.2l-3.1 5.1zM447.6 159.2h6.2l-3.1 5.1zM432.4 163.8h6.2l-3.1 5.1zM411.0 170.9h6.2l-3.1 5.1zM421.1 173.0h6.2l-3.1 5.1zM424.8 178.5h6.2l-3.1 5.1zM424.8 181.3h6.2l-3.1 5.1zM424.8 186.8h6.2l-3.1 5.1zM428.0 190.2h6.2l-3.1 5.1zM433.1 202.0h6.2l-3.1 5.1zM440.7 202.0h6.2l-3.1 5.1zM420.7 204.7h6.2l-3.1 5.1zM457.2 158.5h6.2l-3.1 5.1zM462.1 157.8h6.2l-3.1 5.1zM455.2 168.2h6.2l-3.1 5.1zM466.2 165.4h6.2l-3.1 5.1zM451.7 182.0h6.2l-3.1 5.1zM464.8 179.9h6.2l-3.1 5.1zM466.2 185.4h6.2l-3.1 5.1zM457.2 189.6h6.2l-3.1 5.1zM462.8 191.6h6.2l-3.1 5.1zM460.0 202.0h6.2l-3.1 5.1zM466.2 201.3h6.2l-3.1 5.1zM479.7 155.5h6.2l-3.1 5.1zM486.6 155.5h6.2l-3.1 5.1zM482.4 158.5h6.2l-3.1 5.1zM470.7 161.3h6.2l-3.1 5.1zM487.9 165.4h6.2l-3.1 5.1zM477.6 164.7h6.2l-3.1 5.1zM474.1 168.9h6.2l-3.1 5.1zM467.2 168.2h6.2l-3.1 5.1zM497.6 168.4h6.2l-3.1 5.1zM482.4 175.8h6.2l-3.1 5.1zM474.1 185.4h6.2l-3.1 5.1zM498.3 189.6h6.2l-3.1 5.1zM491.4 194.4h6.2l-3.1 5.1zM487.9 195.8h6.2l-3.1 5.1zM496.9 197.1h6.2l-3.1 5.1zM490.7 201.3h6.2l-3.1 5.1zM474.1 201.3h6.2l-3.1 5.1zM487.2 206.1h6.2l-3.1 5.1zM80.0 210.1h6.2l-3.1 5.1zM85.5 223.9h6.2l-3.1 5.1zM91.0 227.3h6.2l-3.1 5.1zM72.4 231.4h6.2l-3.1 5.1zM88.7 232.8h6.2l-3.1 5.1zM93.8 232.8h6.2l-3.1 5.1zM98.3 233.5h6.2l-3.1 5.1zM105.2 222.5h6.2l-3.1 5.1zM112.4 226.6h6.2l-3.1 5.1zM120.0 228.7h6.2l-3.1 5.1zM125.5 224.6h6.2l-3.1 5.1zM128.3 229.4h6.2l-3.1 5.1zM137.2 220.4h6.2l-3.1 5.1zM80.4 238.3h6.2l-3.1 5.1zM80.4 254.9h6.2l-3.1 5.1zM85.9 253.5h6.2l-3.1 5.1zM119.3 255.6h6.2l-3.1 5.1zM124.1 259.3h6.2l-3.1 5.1zM152.4 210.8h6.2l-3.1 5.1zM149.7 214.2h6.2l-3.1 5.1zM171.0 219.7h6.2l-3.1 5.1zM182.1 219.0h6.2l-3.1 5.1zM189.7 219.7h6.2l-3.1 5.1zM191.7 219.7h6.2l-3.1 5.1zM189.7 212.1h6.2l-3.1 5.1zM180.0 210.1h6.2l-3.1 5.1zM196.6 214.2h6.2l-3.1 5.1zM211.0 219.7h6.2l-3.1 5.1zM149.0 221.1h6.2l-3.1 5.1zM155.2 223.2h6.2l-3.1 5.1zM148.3 225.9h6.2l-3.1 5.1zM156.6 227.3h6.2l-3.1 5.1zM180.7 224.6h6.2l-3.1 5.1zM168.3 232.8h6.2l-3.1 5.1zM174.2 231.4h6.2l-3.1 5.1zM190.3 230.8h6.2l-3.1 5.1zM202.8 227.3h6.2l-3.1 5.1zM206.2 233.5h6.2l-3.1 5.1zM222.1 228.7h6.2l-3.1 5.1zM168.3 241.1h6.2l-3.1 5.1zM165.5 245.9h6.2l-3.1 5.1zM158.6 249.4h6.2l-3.1 5.1zM148.3 252.8h6.2l-3.1 5.1zM210.3 248.0h6.2l-3.1 5.1zM210.3 252.1h6.2l-3.1 5.1zM189.7 257.7h6.2l-3.1 5.1zM242.1 217.7h6.2l-3.1 5.1zM249.7 214.9h6.2l-3.1 5.1zM280.0 212.1h6.2l-3.1 5.1zM294.5 210.1h6.2l-3.1 5.1zM298.6 219.7h6.2l-3.1 5.1zM294.5 232.1h6.2l-3.1 5.1zM304.8 233.5h6.2l-3.1 5.1zM268.3 245.9h6.2l-3.1 5.1zM287.6 243.2h6.2l-3.1 5.1zM249.0 251.9h6.2l-3.1 5.1zM282.8 255.6h6.2l-3.1 5.1zM291.5 257.4h6.2l-3.1 5.1zM326.9 217.0h6.2l-3.1 5.1zM355.2 210.8h6.2l-3.1 5.1zM353.8 215.6h6.2l-3.1 5.1zM364.1 209.4h6.2l-3.1 5.1zM364.1 219.0h6.2l-3.1 5.1zM349.0 222.5h6.2l-3.1 5.1zM380.7 221.8h6.2l-3.1 5.1zM378.6 226.6h6.2l-3.1 5.1zM323.5 230.1h6.2l-3.1 5.1zM360.0 228.7h6.2l-3.1 5.1zM371.5 230.1h6.2l-3.1 5.1zM314.9 236.3h6.2l-3.1 5.1zM340.7 234.9h6.2l-3.1 5.1zM344.8 239.0h6.2l-3.1 5.1zM346.2 243.6h6.2l-3.1 5.1zM340.7 244.1h6.2l-3.1 5.1zM385.5 237.0h6.2l-3.1 5.1zM314.5 245.5h6.2l-3.1 5.1zM335.2 252.8h6.2l-3.1 5.1zM344.4 253.5h6.2l-3.1 5.1zM385.5 252.4h6.2l-3.1 5.1zM352.4 258.3h6.2l-3.1 5.1zM423.5 210.8h6.2l-3.1 5.1zM437.9 212.8h6.2l-3.1 5.1zM393.1 220.4h6.2l-3.1 5.1zM402.1 219.7h6.2l-3.1 5.1zM436.6 219.0h6.2l-3.1 5.1zM451.0 217.0h6.2l-3.1 5.1zM411.0 225.2h6.2l-3.1 5.1zM406.9 229.4h6.2l-3.1 5.1zM405.5 237.7h6.2l-3.1 5.1zM424.1 239.7h6.2l-3.1 5.1zM399.6 242.5h6.2l-3.1 5.1zM435.2 244.6h6.2l-3.1 5.1zM453.1 230.8h6.2l-3.1 5.1zM451.7 232.8h6.2l-3.1 5.1zM455.9 228.7h6.2l-3.1 5.1zM459.3 236.3h6.2l-3.1 5.1zM464.8 234.9h6.2l-3.1 5.1zM455.9 240.4h6.2l-3.1 5.1zM460.7 247.3h6.2l-3.1 5.1zM466.2 245.2h6.2l-3.1 5.1zM423.5 248.0h6.2l-3.1 5.1zM413.8 250.8h6.2l-3.1 5.1zM423.5 256.6h6.2l-3.1 5.1zM399.3 259.0h6.2l-3.1 5.1zM406.2 257.4h6.2l-3.1 5.1zM445.5 259.0h6.2l-3.1 5.1zM451.0 259.0h6.2l-3.1 5.1zM477.6 209.4h6.2l-3.1 5.1zM486.6 210.1h6.2l-3.1 5.1zM496.9 212.8h6.2l-3.1 5.1zM481.7 215.6h6.2l-3.1 5.1zM490.0 217.0h6.2l-3.1 5.1zM467.2 217.7h6.2l-3.1 5.1zM477.6 225.9h6.2l-3.1 5.1zM490.0 225.2h6.2l-3.1 5.1zM496.9 225.2h6.2l-3.1 5.1zM494.1 232.8h6.2l-3.1 5.1zM494.1 240.4h6.2l-3.1 5.1zM494.1 244.6h6.2l-3.1 5.1zM487.9 248.7h6.2l-3.1 5.1zM485.9 254.2h6.2l-3.1 5.1zM474.1 258.3h6.2l-3.1 5.1zM490.0 259.7h6.2l-3.1 5.1zM72.4 269.2h6.2l-3.1 5.1zM80.0 270.6h6.2l-3.1 5.1zM93.8 283.0h6.2l-3.1 5.1zM73.1 283.0h6.2l-3.1 5.1zM90.6 295.0h6.2l-3.1 5.1zM95.2 295.8h6.2l-3.1 5.1zM102.1 295.4h6.2l-3.1 5.1zM76.6 316.1h6.2l-3.1 5.1zM187.6 265.8h6.2l-3.1 5.1zM226.2 277.5h6.2l-3.1 5.1zM213.1 285.1h6.2l-3.1 5.1zM165.5 289.5h6.2l-3.1 5.1zM216.8 297.5h6.2l-3.1 5.1zM217.2 314.0h6.2l-3.1 5.1zM286.2 265.8h6.2l-3.1 5.1zM297.9 268.5h6.2l-3.1 5.1zM239.3 277.5h6.2l-3.1 5.1zM244.1 284.4h6.2l-3.1 5.1zM262.5 278.9h6.2l-3.1 5.1zM270.8 282.6h6.2l-3.1 5.1zM240.4 290.6h6.2l-3.1 5.1zM281.4 289.2h6.2l-3.1 5.1zM301.4 287.1h6.2l-3.1 5.1zM285.9 299.6h6.2l-3.1 5.1zM295.5 299.6h6.2l-3.1 5.1zM334.1 272.9h6.2l-3.1 5.1zM326.2 275.7h6.2l-3.1 5.1zM384.8 277.9h6.2l-3.1 5.1zM309.0 283.7h6.2l-3.1 5.1zM311.3 290.6h6.2l-3.1 5.1zM344.4 286.4h6.2l-3.1 5.1zM354.5 285.8h6.2l-3.1 5.1zM336.6 309.9h6.2l-3.1 5.1zM338.6 316.1h6.2l-3.1 5.1zM415.9 266.4h6.2l-3.1 5.1zM425.5 277.9h6.2l-3.1 5.1zM444.6 296.5h6.2l-3.1 5.1zM415.6 305.8h6.2l-3.1 5.1zM423.9 306.9h6.2l-3.1 5.1zM479.7 266.4h6.2l-3.1 5.1zM471.8 271.0h6.2l-3.1 5.1zM471.4 274.0h6.2l-3.1 5.1zM498.7 273.3h6.2l-3.1 5.1zM477.6 277.5h6.2l-3.1 5.1zM488.6 283.0h6.2l-3.1 5.1zM494.1 284.4h6.2l-3.1 5.1zM497.6 285.5h6.2l-3.1 5.1zM485.9 287.8h6.2l-3.1 5.1zM488.3 292.0h6.2l-3.1 5.1zM114.3 340.5h6.2l-3.1 5.1zM252.2 332.8h6.2l-3.1 5.1zM497.4 196.0h6.2l-3.1 5.1zM497.1 212.6h6.2l-3.1 5.1zM495.4 211.5h6.2l-3.1 5.1zM494.5 229.1h6.2l-3.1 5.1zM497.8 235.0h6.2l-3.1 5.1zM491.9 240.2h6.2l-3.1 5.1zM497.1 241.0h6.2l-3.1 5.1z"/>
<g class="y">
<circle cx="135.9" cy="114.1" r="2.85"/><circle cx="92.1" cy="121.8" r="2.85"/><circle cx="75.5" cy="126.2" r="2.85"/><circle cx="138.6" cy="128.6" r="2.85"/><circle cx="89.0" cy="139.0" r="2.85"/><circle cx="105.2" cy="150.1" r="2.85"/><circle cx="82.1" cy="151.0" r="2.85"/><circle cx="75.5" cy="153.5" r="2.85"/><circle cx="87.9" cy="153.5" r="2.85"/><circle cx="213.4" cy="120.3" r="2.85"/><circle cx="157.6" cy="149.7" r="2.85"/><circle cx="214.1" cy="150.3" r="2.85"/><circle cx="219.9" cy="151.3" r="2.85"/><circle cx="280.8" cy="102.5" r="2.85"/><circle cx="257.2" cy="131.0" r="2.85"/><circle cx="294.8" cy="141.8" r="2.85"/><circle cx="296.6" cy="146.6" r="2.85"/><circle cx="270.3" cy="154.2" r="2.85"/><circle cx="324.5" cy="107.2" r="2.85"/><circle cx="336.9" cy="127.6" r="2.85"/><circle cx="352.1" cy="131.0" r="2.85"/><circle cx="355.8" cy="129.9" r="2.85"/><circle cx="367.7" cy="113.4" r="2.85"/><circle cx="312.1" cy="141.7" r="2.85"/><circle cx="330.7" cy="154.5" r="2.85"/><circle cx="390.0" cy="151.0" r="2.85"/><circle cx="382.4" cy="154.9" r="2.85"/><circle cx="453.7" cy="110.3" r="2.85"/><circle cx="431.0" cy="116.6" r="2.85"/><circle cx="453.9" cy="120.3" r="2.85"/><circle cx="393.4" cy="145.2" r="2.85"/><circle cx="402.1" cy="149.0" r="2.85"/><circle cx="413.7" cy="152.4" r="2.85"/><circle cx="466.3" cy="146.9" r="2.85"/><circle cx="450.7" cy="154.2" r="2.85"/><circle cx="418.3" cy="155.2" r="2.85"/><circle cx="476.9" cy="116.8" r="2.85"/><circle cx="489.0" cy="110.6" r="2.85"/><circle cx="496.9" cy="125.2" r="2.85"/><circle cx="500.1" cy="146.2" r="2.85"/><circle cx="101.0" cy="159.4" r="2.85"/><circle cx="105.2" cy="160.5" r="2.85"/><circle cx="115.8" cy="160.5" r="2.85"/><circle cx="92.1" cy="167.8" r="2.85"/><circle cx="98.3" cy="176.0" r="2.85"/><circle cx="96.9" cy="179.8" r="2.85"/><circle cx="130.7" cy="180.8" r="2.85"/><circle cx="94.1" cy="187.0" r="2.85"/><circle cx="117.3" cy="189.9" r="2.85"/><circle cx="96.9" cy="190.2" r="2.85"/><circle cx="95.8" cy="193.6" r="2.85"/><circle cx="108.3" cy="195.4" r="2.85"/><circle cx="130.3" cy="196.4" r="2.85"/><circle cx="75.5" cy="198.9" r="2.85"/><circle cx="82.4" cy="202.6" r="2.85"/><circle cx="143.5" cy="201.6" r="2.85"/><circle cx="131.7" cy="204.0" r="2.85"/><circle cx="126.6" cy="208.1" r="2.85"/><circle cx="123.1" cy="209.5" r="2.85"/><circle cx="177.3" cy="167.7" r="2.85"/><circle cx="170.3" cy="178.9" r="2.85"/><circle cx="153.9" cy="185.6" r="2.85"/><circle cx="193.9" cy="183.3" r="2.85"/><circle cx="224.5" cy="187.0" r="2.85"/><circle cx="197.9" cy="188.8" r="2.85"/><circle cx="192.8" cy="191.6" r="2.85"/><circle cx="160.3" cy="195.0" r="2.85"/><circle cx="151.4" cy="197.8" r="2.85"/><circle cx="192.8" cy="197.5" r="2.85"/><circle cx="220.3" cy="206.0" r="2.85"/><circle cx="228.3" cy="207.1" r="2.85"/><circle cx="273.9" cy="163.0" r="2.85"/><circle cx="300.1" cy="160.8" r="2.85"/><circle cx="297.6" cy="164.9" r="2.85"/><circle cx="271.8" cy="169.9" r="2.85"/><circle cx="247.0" cy="178.7" r="2.85"/><circle cx="265.4" cy="189.9" r="2.85"/><circle cx="254.1" cy="191.6" r="2.85"/><circle cx="281.0" cy="192.9" r="2.85"/><circle cx="275.5" cy="203.7" r="2.85"/><circle cx="278.3" cy="203.7" r="2.85"/><circle cx="300.1" cy="204.7" r="2.85"/><circle cx="261.4" cy="209.5" r="2.85"/><circle cx="288.6" cy="207.1" r="2.85"/><circle cx="332.5" cy="160.5" r="2.85"/><circle cx="317.9" cy="161.9" r="2.85"/><circle cx="345.9" cy="163.6" r="2.85"/><circle cx="356.6" cy="166.7" r="2.85"/><circle cx="339.7" cy="168.8" r="2.85"/><circle cx="347.5" cy="169.5" r="2.85"/><circle cx="357.3" cy="176.4" r="2.85"/><circle cx="378.3" cy="179.1" r="2.85"/><circle cx="319.9" cy="180.5" r="2.85"/><circle cx="362.8" cy="181.9" r="2.85"/><circle cx="312.1" cy="189.5" r="2.85"/><circle cx="323.1" cy="188.8" r="2.85"/><circle cx="347.5" cy="188.8" r="2.85"/><circle cx="315.5" cy="193.9" r="2.85"/><circle cx="355.5" cy="195.0" r="2.85"/><circle cx="352.8" cy="196.4" r="2.85"/><circle cx="332.5" cy="197.5" r="2.85"/><circle cx="339.0" cy="199.1" r="2.85"/><circle cx="343.8" cy="199.1" r="2.85"/><circle cx="346.6" cy="199.4" r="2.85"/><circle cx="381.0" cy="198.9" r="2.85"/><circle cx="358.6" cy="203.6" r="2.85"/><circle cx="376.9" cy="201.9" r="2.85"/><circle cx="387.9" cy="199.8" r="2.85"/><circle cx="329.3" cy="206.0" r="2.85"/><circle cx="383.8" cy="209.5" r="2.85"/><circle cx="403.5" cy="159.8" r="2.85"/><circle cx="428.3" cy="160.2" r="2.85"/><circle cx="428.3" cy="165.3" r="2.85"/><circle cx="413.9" cy="179.6" r="2.85"/><circle cx="404.9" cy="188.5" r="2.85"/><circle cx="420.6" cy="192.9" r="2.85"/><circle cx="431.1" cy="193.3" r="2.85"/><circle cx="390.7" cy="193.9" r="2.85"/><circle cx="426.6" cy="199.8" r="2.85"/><circle cx="450.7" cy="201.2" r="2.85"/><circle cx="437.6" cy="204.0" r="2.85"/><circle cx="439.7" cy="206.7" r="2.85"/><circle cx="460.3" cy="159.8" r="2.85"/><circle cx="464.5" cy="158.4" r="2.85"/><circle cx="462.4" cy="176.4" r="2.85"/><circle cx="457.2" cy="179.1" r="2.85"/><circle cx="458.6" cy="184.4" r="2.85"/><circle cx="465.9" cy="197.8" r="2.85"/><circle cx="469.9" cy="164.9" r="2.85"/><circle cx="482.8" cy="180.5" r="2.85"/><circle cx="497.2" cy="180.5" r="2.85"/><circle cx="489.0" cy="184.7" r="2.85"/><circle cx="500.0" cy="185.6" r="2.85"/><circle cx="477.2" cy="186.0" r="2.85"/><circle cx="491.0" cy="190.9" r="2.85"/><circle cx="483.4" cy="189.5" r="2.85"/><circle cx="497.9" cy="189.5" r="2.85"/><circle cx="468.3" cy="193.6" r="2.85"/><circle cx="496.6" cy="194.3" r="2.85"/><circle cx="491.7" cy="200.5" r="2.85"/><circle cx="497.2" cy="203.3" r="2.85"/><circle cx="500.7" cy="204.0" r="2.85"/><circle cx="469.7" cy="202.6" r="2.85"/><circle cx="474.5" cy="206.7" r="2.85"/><circle cx="491.7" cy="207.4" r="2.85"/><circle cx="496.6" cy="207.4" r="2.85"/><circle cx="88.6" cy="219.9" r="2.85"/><circle cx="75.5" cy="220.3" r="2.85"/><circle cx="79.7" cy="225.9" r="2.85"/><circle cx="83.8" cy="225.9" r="2.85"/><circle cx="88.6" cy="230.0" r="2.85"/><circle cx="93.7" cy="227.9" r="2.85"/><circle cx="104.5" cy="227.9" r="2.85"/><circle cx="108.3" cy="233.4" r="2.85"/><circle cx="123.1" cy="226.3" r="2.85"/><circle cx="122.4" cy="217.6" r="2.85"/><circle cx="128.6" cy="216.2" r="2.85"/><circle cx="130.7" cy="230.4" r="2.85"/><circle cx="140.3" cy="218.3" r="2.85"/><circle cx="134.6" cy="235.5" r="2.85"/><circle cx="142.4" cy="243.5" r="2.85"/><circle cx="92.1" cy="245.2" r="2.85"/><circle cx="83.1" cy="251.0" r="2.85"/><circle cx="208.6" cy="211.4" r="2.85"/><circle cx="212.8" cy="217.6" r="2.85"/><circle cx="205.2" cy="220.3" r="2.85"/><circle cx="172.1" cy="227.2" r="2.85"/><circle cx="168.6" cy="230.7" r="2.85"/><circle cx="163.8" cy="232.1" r="2.85"/><circle cx="183.1" cy="234.8" r="2.85"/><circle cx="188.6" cy="231.4" r="2.85"/><circle cx="194.1" cy="236.9" r="2.85"/><circle cx="203.8" cy="234.1" r="2.85"/><circle cx="218.3" cy="239.0" r="2.85"/><circle cx="222.4" cy="242.8" r="2.85"/><circle cx="152.8" cy="239.7" r="2.85"/><circle cx="159.7" cy="241.0" r="2.85"/><circle cx="181.0" cy="243.1" r="2.85"/><circle cx="192.8" cy="244.5" r="2.85"/><circle cx="206.6" cy="243.8" r="2.85"/><circle cx="154.1" cy="250.0" r="2.85"/><circle cx="158.3" cy="251.4" r="2.85"/><circle cx="177.6" cy="251.4" r="2.85"/><circle cx="192.8" cy="250.0" r="2.85"/><circle cx="184.5" cy="254.8" r="2.85"/><circle cx="171.4" cy="258.0" r="2.85"/><circle cx="212.8" cy="253.4" r="2.85"/><circle cx="216.9" cy="256.9" r="2.85"/><circle cx="212.8" cy="259.0" r="2.85"/><circle cx="192.8" cy="260.3" r="2.85"/><circle cx="183.1" cy="263.1" r="2.85"/><circle cx="186.6" cy="264.5" r="2.85"/><circle cx="201.0" cy="263.8" r="2.85"/><circle cx="242.4" cy="212.8" r="2.85"/><circle cx="259.7" cy="221.0" r="2.85"/><circle cx="270.0" cy="220.3" r="2.85"/><circle cx="303.1" cy="225.9" r="2.85"/><circle cx="309.3" cy="226.6" r="2.85"/><circle cx="247.0" cy="227.2" r="2.85"/><circle cx="232.1" cy="232.8" r="2.85"/><circle cx="285.9" cy="232.8" r="2.85"/><circle cx="292.8" cy="232.3" r="2.85"/><circle cx="305.9" cy="232.8" r="2.85"/><circle cx="252.1" cy="239.7" r="2.85"/><circle cx="261.0" cy="239.7" r="2.85"/><circle cx="273.9" cy="240.3" r="2.85"/><circle cx="283.8" cy="250.7" r="2.85"/><circle cx="245.2" cy="247.9" r="2.85"/><circle cx="288.6" cy="252.8" r="2.85"/><circle cx="290.7" cy="255.5" r="2.85"/><circle cx="300.3" cy="256.9" r="2.85"/><circle cx="284.5" cy="262.4" r="2.85"/><circle cx="317.6" cy="216.2" r="2.85"/><circle cx="322.4" cy="218.0" r="2.85"/><circle cx="335.5" cy="217.6" r="2.85"/><circle cx="339.0" cy="219.4" r="2.85"/><circle cx="368.6" cy="211.4" r="2.85"/><circle cx="383.8" cy="216.2" r="2.85"/><circle cx="359.7" cy="224.5" r="2.85"/><circle cx="326.6" cy="230.7" r="2.85"/><circle cx="367.2" cy="229.3" r="2.85"/><circle cx="374.8" cy="233.7" r="2.85"/><circle cx="377.6" cy="234.8" r="2.85"/><circle cx="382.4" cy="234.8" r="2.85"/><circle cx="343.8" cy="240.1" r="2.85"/><circle cx="336.9" cy="258.3" r="2.85"/><circle cx="370.7" cy="255.5" r="2.85"/><circle cx="313.9" cy="256.9" r="2.85"/><circle cx="387.9" cy="259.7" r="2.85"/><circle cx="426.6" cy="212.1" r="2.85"/><circle cx="438.3" cy="211.4" r="2.85"/><circle cx="417.6" cy="215.5" r="2.85"/><circle cx="421.7" cy="217.6" r="2.85"/><circle cx="396.2" cy="219.7" r="2.85"/><circle cx="390.7" cy="223.8" r="2.85"/><circle cx="459.0" cy="219.7" r="2.85"/><circle cx="463.8" cy="216.2" r="2.85"/><circle cx="454.8" cy="211.4" r="2.85"/><circle cx="447.9" cy="226.6" r="2.85"/><circle cx="414.1" cy="225.9" r="2.85"/><circle cx="409.3" cy="228.6" r="2.85"/><circle cx="435.5" cy="227.9" r="2.85"/><circle cx="419.0" cy="230.0" r="2.85"/><circle cx="400.3" cy="232.1" r="2.85"/><circle cx="403.1" cy="230.7" r="2.85"/><circle cx="424.5" cy="232.8" r="2.85"/><circle cx="427.2" cy="237.6" r="2.85"/><circle cx="412.8" cy="234.8" r="2.85"/><circle cx="416.9" cy="237.6" r="2.85"/><circle cx="410.7" cy="236.2" r="2.85"/><circle cx="408.6" cy="243.8" r="2.85"/><circle cx="439.0" cy="246.6" r="2.85"/><circle cx="448.6" cy="245.2" r="2.85"/><circle cx="454.1" cy="243.8" r="2.85"/><circle cx="456.2" cy="229.3" r="2.85"/><circle cx="463.8" cy="248.6" r="2.85"/><circle cx="423.8" cy="248.6" r="2.85"/><circle cx="443.8" cy="256.9" r="2.85"/><circle cx="441.0" cy="258.3" r="2.85"/><circle cx="460.3" cy="256.9" r="2.85"/><circle cx="470.0" cy="257.6" r="2.85"/><circle cx="394.8" cy="262.1" r="2.85"/><circle cx="426.6" cy="264.9" r="2.85"/><circle cx="473.8" cy="221.7" r="2.85"/><circle cx="471.0" cy="230.0" r="2.85"/><circle cx="491.0" cy="225.9" r="2.85"/><circle cx="480.7" cy="234.8" r="2.85"/><circle cx="500.7" cy="234.8" r="2.85"/><circle cx="502.8" cy="236.2" r="2.85"/><circle cx="469.7" cy="241.0" r="2.85"/><circle cx="489.0" cy="239.7" r="2.85"/><circle cx="500.0" cy="240.3" r="2.85"/><circle cx="500.0" cy="243.1" r="2.85"/><circle cx="480.7" cy="243.1" r="2.85"/><circle cx="480.7" cy="245.2" r="2.85"/><circle cx="491.0" cy="243.8" r="2.85"/><circle cx="476.6" cy="247.9" r="2.85"/><circle cx="481.4" cy="250.7" r="2.85"/><circle cx="500.0" cy="251.4" r="2.85"/><circle cx="482.8" cy="258.3" r="2.85"/><circle cx="493.1" cy="262.4" r="2.85"/><circle cx="482.8" cy="263.8" r="2.85"/><circle cx="468.3" cy="221.7" r="2.85"/><circle cx="80.3" cy="274.0" r="2.85"/><circle cx="76.2" cy="278.1" r="2.85"/><circle cx="82.1" cy="278.1" r="2.85"/><circle cx="101.0" cy="273.0" r="2.85"/><circle cx="111.0" cy="271.6" r="2.85"/><circle cx="122.4" cy="268.9" r="2.85"/><circle cx="127.2" cy="266.1" r="2.85"/><circle cx="82.1" cy="289.8" r="2.85"/><circle cx="95.5" cy="293.0" r="2.85"/><circle cx="112.5" cy="296.7" r="2.85"/><circle cx="183.8" cy="271.2" r="2.85"/><circle cx="168.3" cy="274.0" r="2.85"/><circle cx="214.1" cy="271.9" r="2.85"/><circle cx="220.1" cy="271.9" r="2.85"/><circle cx="185.2" cy="282.2" r="2.85"/><circle cx="205.9" cy="290.5" r="2.85"/><circle cx="192.8" cy="296.0" r="2.85"/><circle cx="229.7" cy="298.1" r="2.85"/><circle cx="161.0" cy="301.6" r="2.85"/><circle cx="192.8" cy="309.8" r="2.85"/><circle cx="192.5" cy="313.3" r="2.85"/><circle cx="297.9" cy="271.9" r="2.85"/><circle cx="255.1" cy="273.3" r="2.85"/><circle cx="242.4" cy="278.8" r="2.85"/><circle cx="297.6" cy="318.1" r="2.85"/><circle cx="336.9" cy="267.5" r="2.85"/><circle cx="363.8" cy="277.7" r="2.85"/><circle cx="347.5" cy="290.5" r="2.85"/><circle cx="341.7" cy="319.1" r="2.85"/><circle cx="396.2" cy="271.9" r="2.85"/><circle cx="424.1" cy="272.6" r="2.85"/><circle cx="463.8" cy="281.8" r="2.85"/><circle cx="427.5" cy="282.2" r="2.85"/><circle cx="429.0" cy="284.0" r="2.85"/><circle cx="404.9" cy="282.9" r="2.85"/><circle cx="435.8" cy="306.4" r="2.85"/><circle cx="459.0" cy="306.4" r="2.85"/><circle cx="491.4" cy="271.2" r="2.85"/><circle cx="492.4" cy="274.7" r="2.85"/><circle cx="486.6" cy="274.9" r="2.85"/><circle cx="481.0" cy="275.3" r="2.85"/><circle cx="485.1" cy="282.2" r="2.85"/><circle cx="480.7" cy="318.1" r="2.85"/><circle cx="492.1" cy="318.8" r="2.85"/><circle cx="243.2" cy="344.5" r="2.85"/><circle cx="385.1" cy="347.2" r="2.85"/><circle cx="491.0" cy="322.7" r="2.85"/><circle cx="349.0" cy="60.7" r="2.85"/><circle cx="497.0" cy="208.5" r="2.85"/><circle cx="493.0" cy="217.6" r="2.85"/><circle cx="491.0" cy="200.6" r="2.85"/><circle cx="500.2" cy="227.2" r="2.85"/><circle cx="494.3" cy="233.0" r="2.85"/><circle cx="491.0" cy="238.3" r="2.85"/><circle cx="497.0" cy="239.6" r="2.85"/><circle cx="491.4" cy="250.5" r="2.85"/>
</g>
<polyline points="75.5,215.2 140.0,215.4 200.0,214.8 260.0,215.3 320.0,214.7 380.0,215.3 440.0,214.8 503.0,215.2" fill="none" stroke="#000" stroke-width="2.9" stroke-dasharray="10.4 10.35"/>
<polyline points="75.5,220.6 90.0,219.4 105.0,216.8 120.0,213.8 135.0,211.0 150.0,208.6 165.0,206.9 178.0,206.3 192.0,206.9 205.0,208.6 220.0,211.6 232.0,214.4 245.0,217.0 258.0,219.0 272.0,220.9 285.0,222.2 300.0,222.9 313.0,223.0 327.0,222.3 340.0,221.0 350.0,218.8 360.0,216.0 373.0,213.4 390.0,211.3 405.0,209.3 420.0,207.9 432.0,207.2 442.0,207.1 455.0,207.8 470.0,209.8 485.0,212.2 503.0,214.8" fill="none" stroke="#0072BD" stroke-width="2.9" stroke-dasharray="10.3 2.6 5.2 2.6"/>
<polyline points="75.5,203.5 85.0,204.6 95.0,206.5 105.0,209.0 115.0,212.0 125.0,215.0 140.0,219.0 155.0,222.0 170.0,224.0 185.0,225.0 200.0,225.3 215.0,224.6 230.0,222.8 245.0,219.3 260.0,215.3 272.0,211.5 285.0,208.0 300.0,205.5 315.0,204.2 330.0,203.7 342.0,204.3 354.0,206.3 365.0,209.3 375.0,212.3 385.0,215.0 395.0,217.2 408.0,219.8 423.0,222.5 438.0,224.3 452.0,225.2 465.0,225.3 480.0,224.2 492.0,222.6 503.0,221.2" fill="none" stroke="#EDB120" stroke-width="2.9" stroke-linejoin="round"/>
<g stroke="#262626" stroke-width="1.9" fill="none">
<rect x="75.8" y="29.6" width="450.4" height="325.4"/>
<path d="M132.00 355.0v-5.2M132.00 29.6v5.2M188.34 355.0v-5.2M188.34 29.6v5.2M244.67 355.0v-5.2M244.67 29.6v5.2M301.00 355.0v-5.2M301.00 29.6v5.2M357.34 355.0v-5.2M357.34 29.6v5.2M413.67 355.0v-5.2M413.67 29.6v5.2M470.00 355.0v-5.2M470.00 29.6v5.2M75.8 354.28h5.2M526.2 354.28h-5.2M75.8 307.80h5.2M526.2 307.80h-5.2M75.8 261.32h5.2M526.2 261.32h-5.2M75.8 214.84h5.2M526.2 214.84h-5.2M75.8 168.36h5.2M526.2 168.36h-5.2M75.8 121.88h5.2M526.2 121.88h-5.2M75.8 75.40h5.2M526.2 75.40h-5.2"/>
</g>
<text class="tk" text-anchor="middle" transform="translate(75.7,367.4) scale(0.9,1)">0</text>
<text class="tk" text-anchor="middle" transform="translate(132.0,367.4) scale(0.9,1)">0.5</text>
<text class="tk" text-anchor="middle" transform="translate(188.3,367.4) scale(0.9,1)">1</text>
<text class="tk" text-anchor="middle" transform="translate(244.7,367.4) scale(0.9,1)">1.5</text>
<text class="tk" text-anchor="middle" transform="translate(301.0,367.4) scale(0.9,1)">2</text>
<text class="tk" text-anchor="middle" transform="translate(357.3,367.4) scale(0.9,1)">2.5</text>
<text class="tk" text-anchor="middle" transform="translate(413.7,367.4) scale(0.9,1)">3</text>
<text class="tk" text-anchor="middle" transform="translate(470.0,367.4) scale(0.9,1)">3.5</text>
<text class="tk" text-anchor="middle" transform="translate(526.3,367.4) scale(0.9,1)">4</text>
<text class="tk" text-anchor="end" transform="translate(72.0,357.6) scale(0.9,1)">-3</text>
<text class="tk" text-anchor="end" transform="translate(72.0,311.1) scale(0.9,1)">-2</text>
<text class="tk" text-anchor="end" transform="translate(72.0,264.6) scale(0.9,1)">-1</text>
<text class="tk" text-anchor="end" transform="translate(72.0,218.1) scale(0.9,1)">0</text>
<text class="tk" text-anchor="end" transform="translate(72.0,171.7) scale(0.9,1)">1</text>
<text class="tk" text-anchor="end" transform="translate(72.0,125.2) scale(0.9,1)">2</text>
<text class="tk" text-anchor="end" transform="translate(72.0,78.7) scale(0.9,1)">3</text>
<text class="tk" transform="translate(76.3,28) scale(0.9,1)"><tspan font-size="11" dy="1.3">×</tspan><tspan dy="-1.3"> 10</tspan><tspan dy="-3.9" font-size="7.4">-7</tspan></text>
<text class="tk" transform="translate(505.8,381.9) scale(0.9,1)"><tspan font-size="11" dy="1.3">×</tspan><tspan dy="-1.3"> 10</tspan><tspan dy="-3.9" font-size="7.4">8</tspan></text>
<text class="ax" text-anchor="middle" x="301" y="383.6">time(s)</text>
<text class="ax" text-anchor="middle" transform="translate(58.4,193.4) rotate(-90)">residual(s)</text>
<rect x="364.2" y="37.1" width="154.9" height="65.6" fill="#fff" stroke="#262626" stroke-width="1.9"/>
<text class="lg" transform="translate(394.7,46.6) scale(0.945,1)">Signal+Noise of PSR J0437-4715</text>
<text class="lg" transform="translate(394.7,57.3) scale(0.945,1)">Signal+Noise of PSR J1713+0747</text>
<text class="lg" transform="translate(394.7,67.9) scale(0.945,1)">Signal+Noise of PSR J1909-3744</text>
<text class="lg" transform="translate(394.7,78.5) scale(0.945,1)">Signal of PSR J0437-4715</text>
<text class="lg" transform="translate(394.7,89.1) scale(0.945,1)">Signal of PSR J1713+0747</text>
<text class="lg" transform="translate(394.7,99.7) scale(0.945,1)">Signal of PSR J1909-3744</text>
<path class="k" d="M377.5 43.6h5m-2.5 -2.5v5m-1.8 -4.3l3.6 3.6m-3.6 0l3.6 -3.6"/>
<path class="b" d="M376.5 52.3h6.2l-3.1 5.1z"/>
<circle class="y" cx="379.7" cy="64.9" r="2.85"/>
<path d="M366.6 75.5H392.8" stroke="#000" stroke-width="2.9" stroke-dasharray="10.3 10.4" fill="none"/>
<path d="M366.6 86.1H392.8" stroke="#0072BD" stroke-width="2.9" stroke-dasharray="10.3 2.6 5.2 2.6" fill="none"/>
<path d="M366.6 96.7H392.8" stroke="#EDB120" stroke-width="2.9" fill="none"/>
</svg></body></html>
